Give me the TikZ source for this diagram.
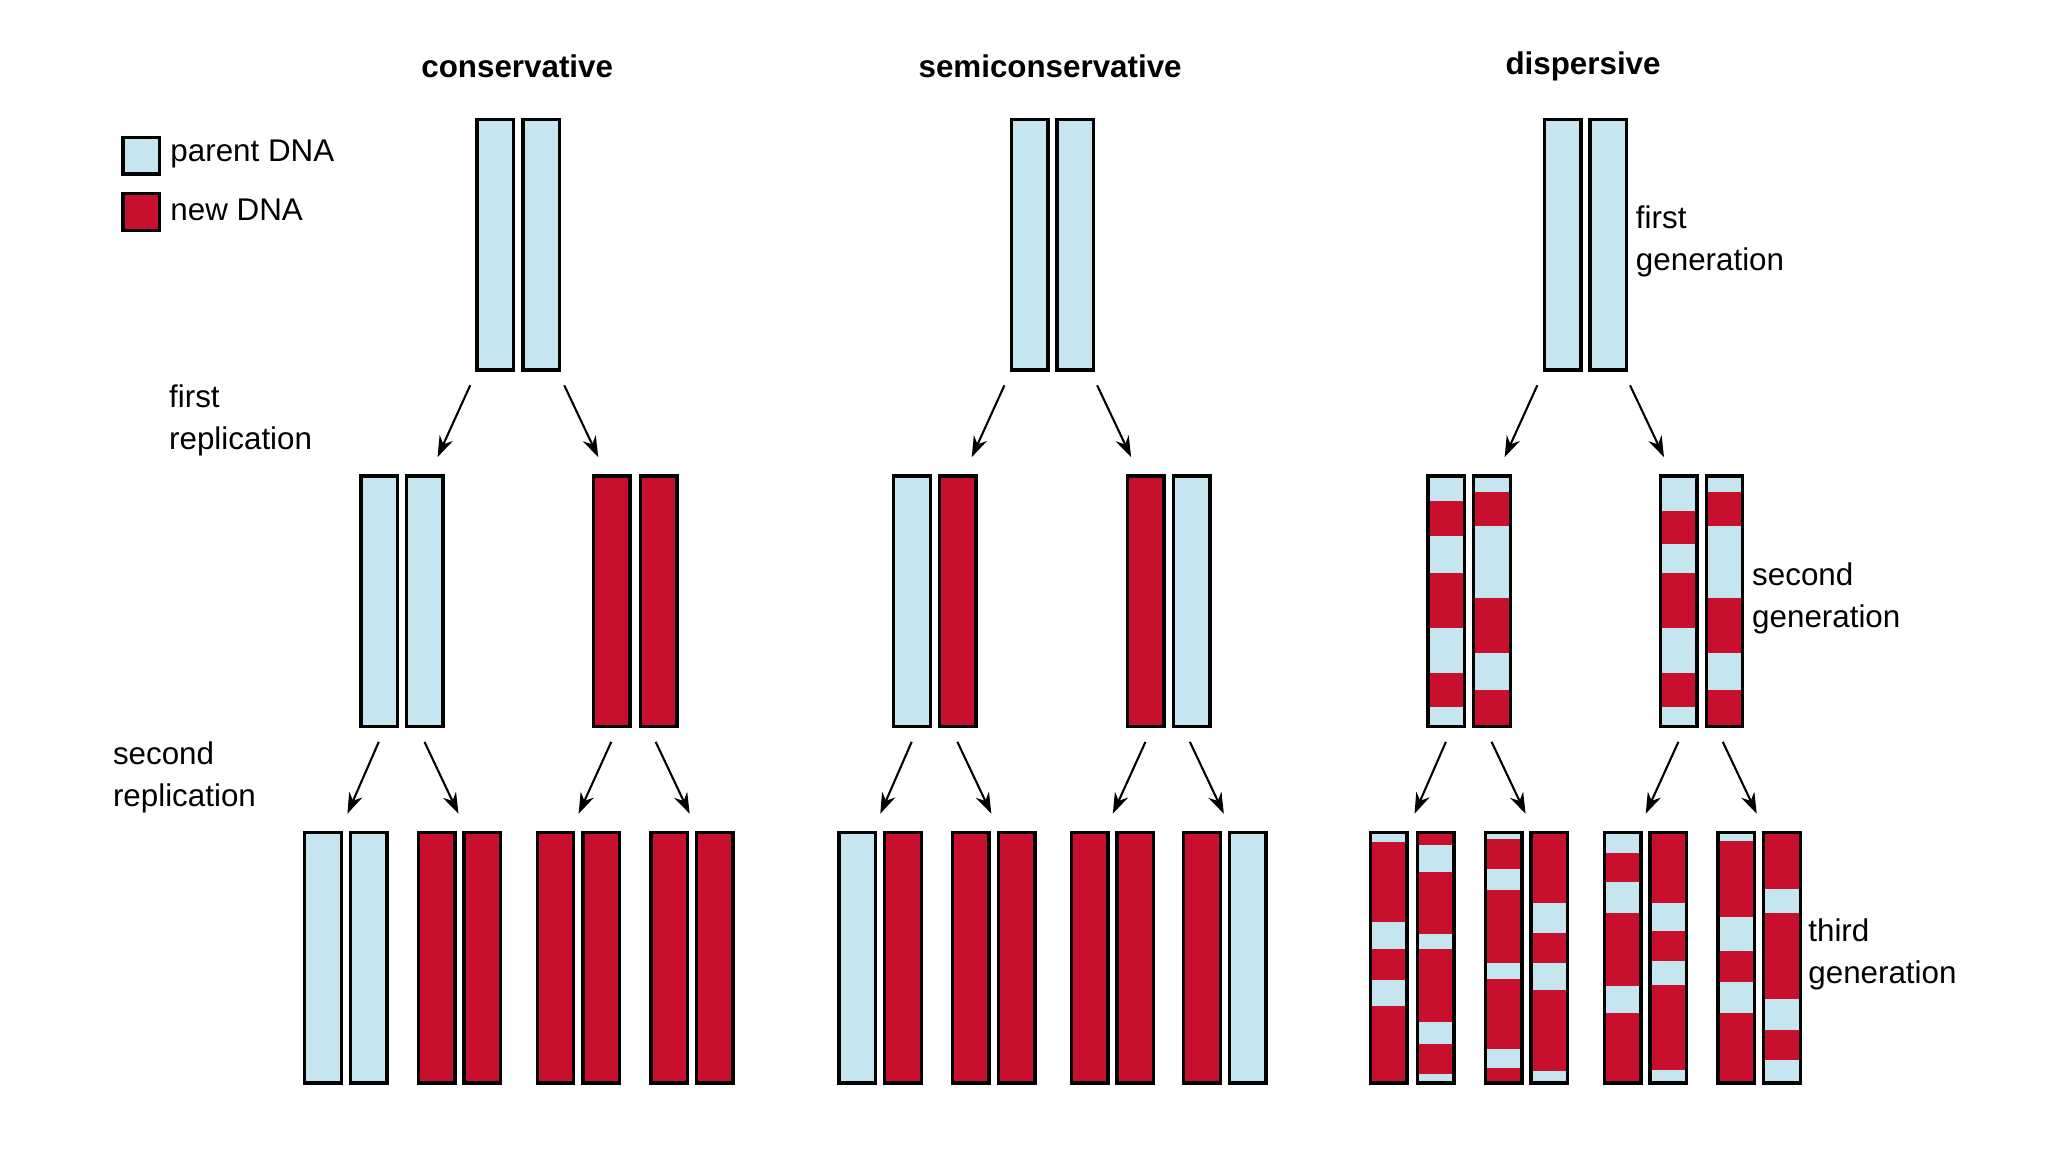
\documentclass[tikz,border=0pt]{standalone}
\usepackage{fontspec}
\setmainfont{Liberation Sans}
\usetikzlibrary{arrows.meta}
\definecolor{pblue}{HTML}{C5E6EE}
\definecolor{nred}{HTML}{C8102E}
\tikzset{
  strand/.style={draw=black,line width=2.6pt,minimum width=28pt,minimum height=192pt,inner sep=0pt,anchor=north west},
  par/.style={strand,fill=pblue},
  new/.style={strand,fill=nred},
  arr/.style={line width=1.6pt,-{Stealth[length=16pt,width=11pt]}},
  ttl/.style={font=\fontsize{24}{28}\selectfont\bfseries},
  lbl/.style={font=\fontsize{24}{32}\selectfont,align=left,anchor=west}
}
% dispersive strand: name, x, y, list of blue bands (fractions)
\newcommand{\dstrand}[4]{%
  \node[strand,fill=nred] (#1) at (#2,#3) {};
  \foreach \a/\b in {#4}{\fill[pblue] (#2,#3+192*\a) rectangle (#2+28,#3+192*\b);}
  \node[strand] at (#2,#3) {};
}
\newcommand{\ar}[4]{%
  \coordinate (#1s) at (#2,#3); \coordinate (#1e) at (#2+#4,#3+55);
  \draw[arr] (#1s) -- (#1e);}
\begin{document}
\begin{tikzpicture}[x=1pt,y=-1pt]
\useasboundingbox (0,0) rectangle (1568,882);
% titles
\node[ttl] (t1) at (396,51) {conservative};
\node[ttl] (t2) at (804,51) {semiconservative};
\node[ttl] (t3) at (1212,51) {dispersive};
% legend
\node[strand,fill=pblue,minimum width=28pt,minimum height=28pt] (lp) at (93,104) {};
\node[strand,fill=nred,minimum width=28pt,minimum height=28pt] (ln) at (93,147) {};
\node[lbl] (lpt) at (127,118) {parent DNA};
\node[lbl] (lnt) at (127,161) {new DNA};
% labels
\node[lbl] (l1) at (126,322) {first\\replication};
\node[lbl] (l2) at (83,595) {second\\replication};
\node[lbl] (l3) at (1249,185) {first\\generation};
\node[lbl] (l4) at (1338,458) {second\\generation};
\node[lbl] (l5) at (1381,731) {third\\generation};
% conservative
\node[par] (c1) at (364,90) {}; \node[par] (c2) at (399,90) {};
\node[par] (c3) at (275,363) {}; \node[par] (c4) at (310,363) {};
\node[new] (c5) at (453,363) {}; \node[new] (c6) at (489,363) {};
\node[par] (c7) at (232,636) {}; \node[par] (c8) at (267,636) {};
\node[new] (c9) at (319,636) {}; \node[new] (c10) at (354,636) {};
\node[new] (c11) at (410,636) {}; \node[new] (c12) at (445,636) {};
\node[new] (c13) at (497,636) {}; \node[new] (c14) at (532,636) {};
% semiconservative
\node[par] (s1) at (773,90) {}; \node[par] (s2) at (808,90) {};
\node[par] (s3) at (683,363) {}; \node[new] (s4) at (718,363) {};
\node[new] (s5) at (862,363) {}; \node[par] (s6) at (897,363) {};
\node[par] (s7) at (641,636) {}; \node[new] (s8) at (676,636) {};
\node[new] (s9) at (728,636) {}; \node[new] (s10) at (763,636) {};
\node[new] (s11) at (819,636) {}; \node[new] (s12) at (854,636) {};
\node[new] (s13) at (905,636) {}; \node[par] (s14) at (940,636) {};
% dispersive
\node[par] (d1) at (1181,90) {}; \node[par] (d2) at (1216,90) {};
\dstrand{d3}{1092}{363}{0/0.107,0.247/0.393,0.613/0.793,0.927/1}
\dstrand{d4}{1127}{363}{0/0.07,0.207/0.493,0.713/0.86}
\dstrand{d5}{1270}{363}{0/0.147,0.28/0.393,0.613/0.793,0.927/1}
\dstrand{d6}{1305}{363}{0/0.07,0.207/0.493,0.713/0.86}
\dstrand{d7}{1048}{636}{0/0.044,0.363/0.473,0.596/0.7}
\dstrand{d8}{1084}{636}{0.057/0.164,0.413/0.473,0.764/0.849,0.97/1}
\dstrand{d9}{1136}{636}{0.007/0.033,0.153/0.237,0.527/0.591,0.871/0.947}
\dstrand{d10}{1171}{636}{0.287/0.409,0.527/0.636,0.96/1}
\dstrand{d11}{1227}{636}{0/0.087,0.204/0.329,0.62/0.727}
\dstrand{d12}{1262}{636}{0.287/0.4,0.52/0.617,0.953/1}
\dstrand{d13}{1314}{636}{0/0.043,0.343/0.48,0.603/0.727}
\dstrand{d14}{1349}{636}{0.233/0.329,0.673/0.796,0.916/1}
% arrows
\ar{a1}{360}{295}{-25} \ar{a2}{432}{295}{26}
\ar{a3}{290}{568}{-24} \ar{a4}{325}{568}{26}
\ar{a5}{468}{568}{-25} \ar{a6}{502}{568}{26}
\ar{a7}{769}{295}{-25} \ar{a8}{840}{295}{26}
\ar{a9}{698}{568}{-24} \ar{a10}{733}{568}{26}
\ar{a11}{877}{568}{-25} \ar{a12}{911}{568}{26}
\ar{a13}{1177}{295}{-25} \ar{a14}{1248}{295}{26}
\ar{a15}{1107}{568}{-24} \ar{a16}{1142}{568}{26}
\ar{a17}{1285}{568}{-25} \ar{a18}{1319}{568}{26}
\end{tikzpicture}
\end{document}
